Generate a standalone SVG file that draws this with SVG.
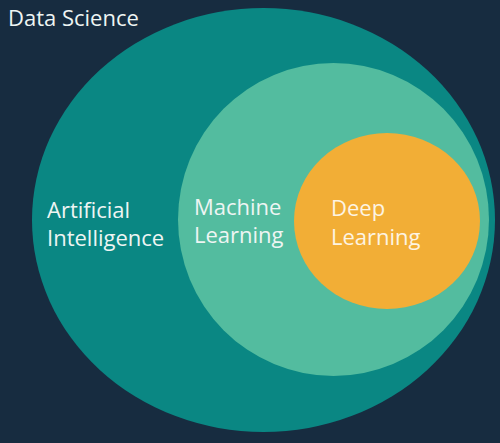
<svg xmlns="http://www.w3.org/2000/svg" width="500" height="443" viewBox="0 0 500 443">
<style>
.lbl{font-family:"Open Sans","Noto Sans","DejaVu Sans",sans-serif;font-size:22px;fill:#eef5f3}
.dl{fill:#fdf4e3}
</style>
<rect x="0" y="0" width="500" height="443" fill="#172c40"/>
<g id="data-science">
<text class="lbl" x="8" y="26">Data Science</text>
</g>
<g id="artificial-intelligence">
<ellipse cx="263.5" cy="220" rx="231.5" ry="212" fill="#0a8783"/>
<text class="lbl" x="47" y="217.5">Artificial</text>
<text class="lbl" x="47" y="245.5">Intelligence</text>
</g>
<g id="machine-learning">
<ellipse cx="333.5" cy="219.5" rx="155.5" ry="156.5" fill="#53bc9f"/>
<text class="lbl" x="194" y="215">Machine</text>
<text class="lbl" x="194" y="243">Learning</text>
</g>
<g id="deep-learning">
<ellipse cx="387" cy="221" rx="93" ry="88" fill="#f2ae36"/>
<text class="lbl dl" x="331" y="216">Deep</text>
<text class="lbl dl" x="331" y="245">Learning</text>
</g>
<g id="connectors"/>
</svg>
